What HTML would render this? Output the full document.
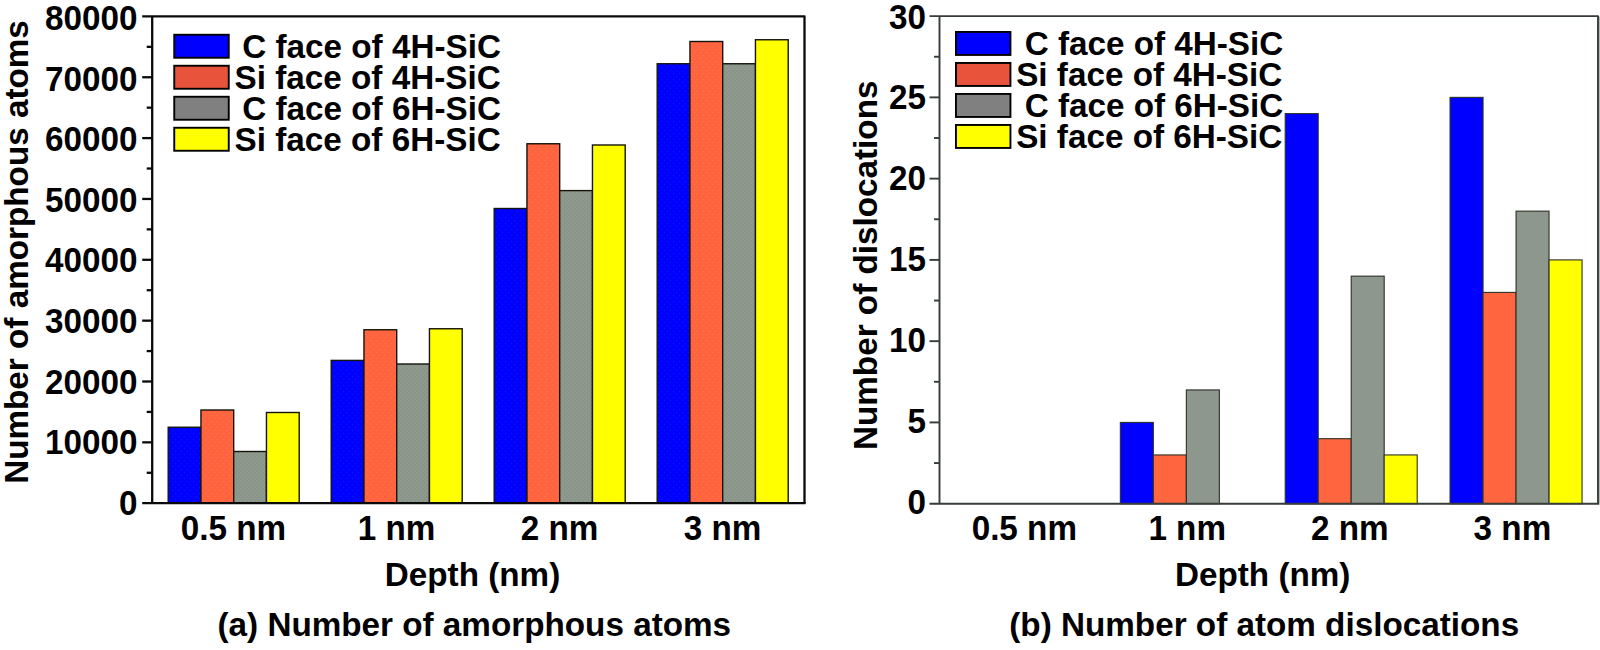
<!DOCTYPE html>
<html lang="en">
<head>
<meta charset="utf-8">
<title>Number of amorphous atoms and atom dislocations</title>
<style>
html,body{margin:0;padding:0;background:#fff;}
body{width:1600px;height:650px;overflow:hidden;}
svg{display:block;}
svg text{font-family:"Liberation Sans", sans-serif;font-weight:700;font-size:33.25px;fill:#000;}
</style>
</head>
<body>
<svg width="1600" height="650" viewBox="0 0 1600 650">
<rect x="0" y="0" width="1600" height="650" fill="#ffffff"/>
<defs><pattern id="po" width="6" height="6" patternUnits="userSpaceOnUse"><rect width="6" height="6" fill="#ff6340"/><circle cx="1.5" cy="1.5" r="0.75" fill="#ff7838"/><circle cx="4.5" cy="4.5" r="0.75" fill="#ff7838"/></pattern><pattern id="pg" width="4" height="4" patternUnits="userSpaceOnUse"><rect width="4" height="4" fill="#8a9488"/><circle cx="1" cy="1" r="0.7" fill="#99a598"/><circle cx="3" cy="3" r="0.7" fill="#99a598"/></pattern><pattern id="pb" width="6" height="6" patternUnits="userSpaceOnUse"><rect width="6" height="6" fill="#0000ff"/><circle cx="1.5" cy="1.5" r="0.75" fill="#0016ff"/><circle cx="4.5" cy="4.5" r="0.75" fill="#0016ff"/></pattern></defs>
<g>
<rect x="168.2" y="427.25" width="32.75" height="75.95" fill="url(#pb)" stroke="#14140c" stroke-width="1.4"/>
<rect x="200.95" y="410" width="32.75" height="93.2" fill="url(#po)" stroke="#14140c" stroke-width="1.4"/>
<rect x="233.7" y="451.5" width="32.75" height="51.7" fill="url(#pg)" stroke="#14140c" stroke-width="1.4"/>
<rect x="266.45" y="412.5" width="32.75" height="90.7" fill="#ffff00" stroke="#14140c" stroke-width="1.4"/>
<rect x="331.2" y="360.4" width="32.75" height="142.8" fill="url(#pb)" stroke="#14140c" stroke-width="1.4"/>
<rect x="363.95" y="329.75" width="32.75" height="173.45" fill="url(#po)" stroke="#14140c" stroke-width="1.4"/>
<rect x="396.7" y="364" width="32.75" height="139.2" fill="url(#pg)" stroke="#14140c" stroke-width="1.4"/>
<rect x="429.45" y="328.75" width="32.75" height="174.45" fill="#ffff00" stroke="#14140c" stroke-width="1.4"/>
<rect x="494.2" y="208.5" width="32.75" height="294.7" fill="url(#pb)" stroke="#14140c" stroke-width="1.4"/>
<rect x="526.95" y="143.75" width="32.75" height="359.45" fill="url(#po)" stroke="#14140c" stroke-width="1.4"/>
<rect x="559.7" y="190.6" width="32.75" height="312.6" fill="url(#pg)" stroke="#14140c" stroke-width="1.4"/>
<rect x="592.45" y="145" width="32.75" height="358.2" fill="#ffff00" stroke="#14140c" stroke-width="1.4"/>
<rect x="657.2" y="63.75" width="32.75" height="439.45" fill="url(#pb)" stroke="#14140c" stroke-width="1.4"/>
<rect x="689.95" y="41.5" width="32.75" height="461.7" fill="url(#po)" stroke="#14140c" stroke-width="1.4"/>
<rect x="722.7" y="63.75" width="32.75" height="439.45" fill="url(#pg)" stroke="#14140c" stroke-width="1.4"/>
<rect x="755.45" y="39.75" width="32.75" height="463.45" fill="#ffff00" stroke="#14140c" stroke-width="1.4"/>
<path d="M142.2 16.4 H804.5 V503.2" fill="none" stroke="#0a0a0a" stroke-width="2.3" stroke-linejoin="round"/>
<path d="M152.2 16.4 V503.2" fill="none" stroke="#0a0a0a" stroke-width="2.3"/>
<path d="M142.2 503.2 H805.65" fill="none" stroke="#0a0a0a" stroke-width="2.3"/>
<path d="M146.7 472.77 H152.2" fill="none" stroke="#0a0a0a" stroke-width="2.3"/>
<text transform="translate(137.4 514.6) scale(1 1.044)" text-anchor="end">0</text>
<path d="M142.2 442.35 H152.2" fill="none" stroke="#0a0a0a" stroke-width="2.3"/>
<path d="M146.7 411.92 H152.2" fill="none" stroke="#0a0a0a" stroke-width="2.3"/>
<text transform="translate(137.4 454.06) scale(1 1.044)" text-anchor="end">10000</text>
<path d="M142.2 381.5 H152.2" fill="none" stroke="#0a0a0a" stroke-width="2.3"/>
<path d="M146.7 351.07 H152.2" fill="none" stroke="#0a0a0a" stroke-width="2.3"/>
<text transform="translate(137.4 393.52) scale(1 1.044)" text-anchor="end">20000</text>
<path d="M142.2 320.65 H152.2" fill="none" stroke="#0a0a0a" stroke-width="2.3"/>
<path d="M146.7 290.22 H152.2" fill="none" stroke="#0a0a0a" stroke-width="2.3"/>
<text transform="translate(137.4 332.98) scale(1 1.044)" text-anchor="end">30000</text>
<path d="M142.2 259.8 H152.2" fill="none" stroke="#0a0a0a" stroke-width="2.3"/>
<path d="M146.7 229.37 H152.2" fill="none" stroke="#0a0a0a" stroke-width="2.3"/>
<text transform="translate(137.4 272.44) scale(1 1.044)" text-anchor="end">40000</text>
<path d="M142.2 198.95 H152.2" fill="none" stroke="#0a0a0a" stroke-width="2.3"/>
<path d="M146.7 168.52 H152.2" fill="none" stroke="#0a0a0a" stroke-width="2.3"/>
<text transform="translate(137.4 211.9) scale(1 1.044)" text-anchor="end">50000</text>
<path d="M142.2 138.1 H152.2" fill="none" stroke="#0a0a0a" stroke-width="2.3"/>
<path d="M146.7 107.67 H152.2" fill="none" stroke="#0a0a0a" stroke-width="2.3"/>
<text transform="translate(137.4 151.36) scale(1 1.044)" text-anchor="end">60000</text>
<path d="M142.2 77.25 H152.2" fill="none" stroke="#0a0a0a" stroke-width="2.3"/>
<path d="M146.7 46.83 H152.2" fill="none" stroke="#0a0a0a" stroke-width="2.3"/>
<text transform="translate(137.4 90.82) scale(1 1.044)" text-anchor="end">70000</text>
<text transform="translate(137.4 30.28) scale(1 1.044)" text-anchor="end">80000</text>
<text transform="translate(233.5 540.2) scale(1 1.035)" text-anchor="middle">0.5 nm</text>
<text transform="translate(396.5 540.2) scale(1 1.035)" text-anchor="middle">1 nm</text>
<text transform="translate(559.5 540.2) scale(1 1.035)" text-anchor="middle">2 nm</text>
<text transform="translate(722.5 540.2) scale(1 1.035)" text-anchor="middle">3 nm</text>
<text x="472.5" y="586.2" text-anchor="middle">Depth (nm)</text>
<text x="474.3" y="636.3" text-anchor="middle">(a) Number of amorphous atoms</text>
<text transform="translate(28.4 252) rotate(-90)" text-anchor="middle">Number of amorphous atoms</text>
<rect x="174.25" y="34.75" width="54.5" height="23" fill="#0000ff" stroke="#000" stroke-width="1.9"/>
<text x="242.24" y="58.2">C face of 4H-SiC</text>
<rect x="174.25" y="65.75" width="54.5" height="23" fill="#e8543b" stroke="#000" stroke-width="1.9"/>
<text x="234.6" y="89.2">Si face of 4H-SiC</text>
<rect x="174.25" y="96.75" width="54.5" height="23" fill="#808080" stroke="#000" stroke-width="1.9"/>
<text x="242.24" y="120.2">C face of 6H-SiC</text>
<rect x="174.25" y="127.75" width="54.5" height="23" fill="#ffff00" stroke="#000" stroke-width="1.9"/>
<text x="234.6" y="151.2">Si face of 6H-SiC</text>
</g>
<g>
<rect x="1120.35" y="422.43" width="33" height="81.27" fill="#0000ff" stroke="#2c3026" stroke-width="1.1"/>
<rect x="1153.35" y="454.94" width="33" height="48.76" fill="#ff6640" stroke="#2c3026" stroke-width="1.1"/>
<rect x="1186.35" y="389.93" width="33" height="113.77" fill="#8d978d" stroke="#2c3026" stroke-width="1.1"/>
<rect x="1285.2" y="113.62" width="33" height="390.08" fill="#0000ff" stroke="#2c3026" stroke-width="1.1"/>
<rect x="1318.2" y="438.69" width="33" height="65.01" fill="#ff6640" stroke="#2c3026" stroke-width="1.1"/>
<rect x="1351.2" y="276.15" width="33" height="227.55" fill="#8d978d" stroke="#2c3026" stroke-width="1.1"/>
<rect x="1384.2" y="454.94" width="33" height="48.76" fill="#ffff00" stroke="#2c3026" stroke-width="1.1"/>
<rect x="1450.05" y="97.37" width="33" height="406.33" fill="#0000ff" stroke="#2c3026" stroke-width="1.1"/>
<rect x="1483.05" y="292.41" width="33" height="211.29" fill="#ff6640" stroke="#2c3026" stroke-width="1.1"/>
<rect x="1516.05" y="211.14" width="33" height="292.56" fill="#8d978d" stroke="#2c3026" stroke-width="1.1"/>
<rect x="1549.05" y="259.9" width="33" height="243.8" fill="#ffff00" stroke="#2c3026" stroke-width="1.1"/>
<path d="M929.5 16.1 H1598 V503.7" fill="none" stroke="#363c37" stroke-width="1.9" stroke-linejoin="round"/>
<path d="M939.5 16.1 V503.7" fill="none" stroke="#363c37" stroke-width="1.9"/>
<path d="M929.5 503.7 H1598.95" fill="none" stroke="#363c37" stroke-width="1.9"/>
<path d="M934 463.07 H939.5" fill="none" stroke="#363c37" stroke-width="1.9"/>
<text transform="translate(926 514.1) scale(1 1.044)" text-anchor="end">0</text>
<path d="M929.5 422.43 H939.5" fill="none" stroke="#363c37" stroke-width="1.9"/>
<path d="M934 381.8 H939.5" fill="none" stroke="#363c37" stroke-width="1.9"/>
<text transform="translate(926 433.17) scale(1 1.044)" text-anchor="end">5</text>
<path d="M929.5 341.17 H939.5" fill="none" stroke="#363c37" stroke-width="1.9"/>
<path d="M934 300.53 H939.5" fill="none" stroke="#363c37" stroke-width="1.9"/>
<text transform="translate(926 352.24) scale(1 1.044)" text-anchor="end">10</text>
<path d="M929.5 259.9 H939.5" fill="none" stroke="#363c37" stroke-width="1.9"/>
<path d="M934 219.27 H939.5" fill="none" stroke="#363c37" stroke-width="1.9"/>
<text transform="translate(926 271.31) scale(1 1.044)" text-anchor="end">15</text>
<path d="M929.5 178.63 H939.5" fill="none" stroke="#363c37" stroke-width="1.9"/>
<path d="M934 138 H939.5" fill="none" stroke="#363c37" stroke-width="1.9"/>
<text transform="translate(926 190.38) scale(1 1.044)" text-anchor="end">20</text>
<path d="M929.5 97.37 H939.5" fill="none" stroke="#363c37" stroke-width="1.9"/>
<path d="M934 56.73 H939.5" fill="none" stroke="#363c37" stroke-width="1.9"/>
<text transform="translate(926 109.45) scale(1 1.044)" text-anchor="end">25</text>
<text transform="translate(926 28.52) scale(1 1.044)" text-anchor="end">30</text>
<text transform="translate(1024.3 540.2) scale(1 1.035)" text-anchor="middle">0.5 nm</text>
<text transform="translate(1187.2 540.2) scale(1 1.035)" text-anchor="middle">1 nm</text>
<text transform="translate(1349.8 540.2) scale(1 1.035)" text-anchor="middle">2 nm</text>
<text transform="translate(1512.4 540.2) scale(1 1.035)" text-anchor="middle">3 nm</text>
<text x="1262.7" y="586.2" text-anchor="middle">Depth (nm)</text>
<text x="1264.2" y="636.3" text-anchor="middle">(b) Number of atom dislocations</text>
<text transform="translate(877 265.3) rotate(-90)" text-anchor="middle">Number of dislocations</text>
<rect x="955.95" y="31.95" width="54.5" height="23" fill="#0000ff" stroke="#000" stroke-width="1.9"/>
<text x="1024.64" y="55.4">C face of 4H-SiC</text>
<rect x="955.95" y="62.95" width="54.5" height="23" fill="#e8543b" stroke="#000" stroke-width="1.9"/>
<text x="1016.2" y="86.4">Si face of 4H-SiC</text>
<rect x="955.95" y="93.95" width="54.5" height="23" fill="#808080" stroke="#000" stroke-width="1.9"/>
<text x="1024.64" y="117.4">C face of 6H-SiC</text>
<rect x="955.95" y="124.95" width="54.5" height="23" fill="#ffff00" stroke="#000" stroke-width="1.9"/>
<text x="1016.2" y="148.4">Si face of 6H-SiC</text>
</g>
<path d="M1599.5 16.5 V504.5" fill="none" stroke="#b3bab3" stroke-width="1"/>
</svg>
</body>
</html>
